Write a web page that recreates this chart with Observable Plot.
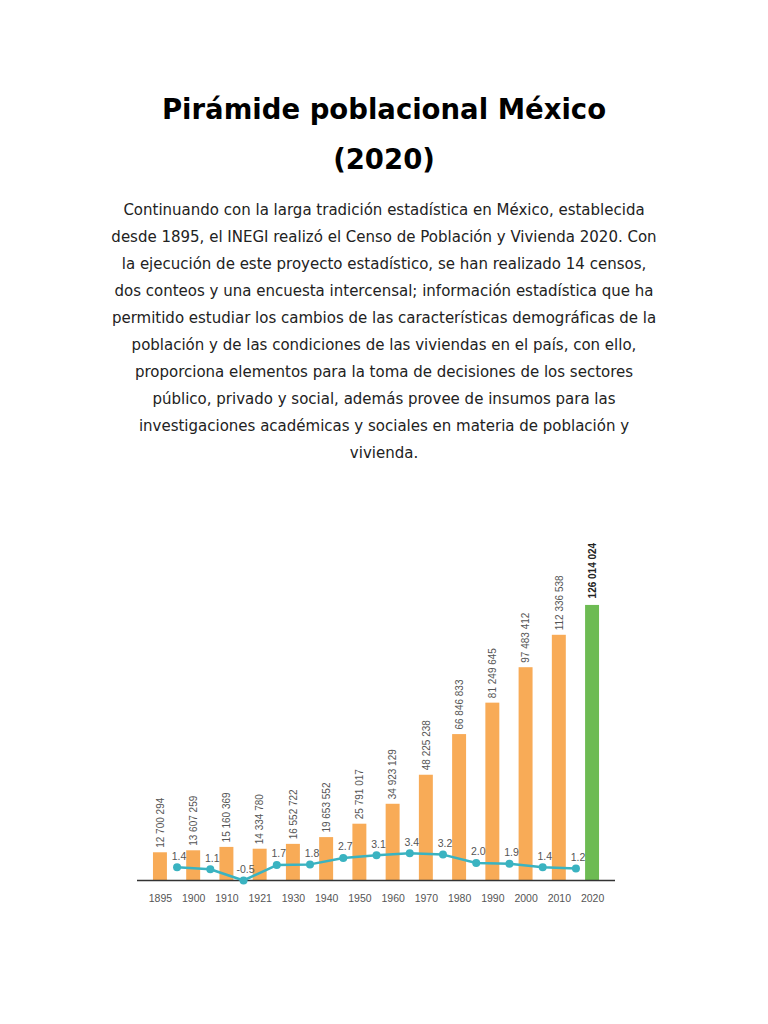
<!DOCTYPE html>
<html lang="es">
<head>
<meta charset="utf-8">
<script src="https://cdn.jsdelivr.net/npm/d3@7"></script>
<script src="https://cdn.jsdelivr.net/npm/@observablehq/plot@0.6"></script>
<style>
  html, body { margin: 0; padding: 0; background: #fff; }
  body { width: 768px; height: 1024px; position: relative; overflow: hidden; font-family: "DejaVu Sans", sans-serif; color: #111; }
  #title { position: absolute; top: 84px; left: 0; width: 768px; text-align: center; font-weight: bold; font-size: 27.5px; line-height: 50px; margin: 0; color: #000; }
  #intro { position: absolute; top: 196.5px; left: 0; width: 768px; text-align: center; font-size: 15px; line-height: 27px; margin: 0; color: #222; }
  #chart { position: absolute; top: 530px; left: 0; }
</style>
</head>
<body>
<h1 id="title">Pirámide poblacional México<br>(2020)</h1>
<p id="intro">Continuando con la larga tradición estadística en México, establecida<br>desde 1895, el INEGI realizó el Censo de Población y Vivienda 2020. Con<br>la ejecución de este proyecto estadístico, se han realizado 14 censos,<br>dos conteos y una encuesta intercensal; información estadística que ha<br>permitido estudiar los cambios de las características demográficas de la<br>población y de las condiciones de las viviendas en el país, con ello,<br>proporciona elementos para la toma de decisiones de los sectores<br>público, privado y social, además provee de insumos para las<br>investigaciones académicas y sociales en materia de población y<br>vivienda.</p>
<div id="chart"></div>
<script>
const years = ["1895","1900","1910","1921","1930","1940","1950","1960","1970","1980","1990","2000","2010","2020"];
const population = [12700294, 13607259, 15160369, 14334780, 16552722, 19653552, 25791017, 34923129, 48225238, 66846833, 81249645, 97483412, 112336538, 126014024];
const growthRates = [1.4, 1.1, -0.5, 1.7, 1.8, 2.7, 3.1, 3.4, 3.2, 2.0, 1.9, 1.4, 1.2];

const orange = "#F8AB57";
const green = "#6DBB53";
const teal = "#3AB3C1";

const fmt = d3.formatLocale({thousands: "\u2009", grouping: [3], decimal: "."}).format(",d");
const fmtSpace = v => fmt(v).replace(/\u2009/g, " ");

const bars = years.map((year, i) => ({i, year, pop: population[i], last: i === years.length - 1}));
const rates = growthRates.map((g, i) => ({i: i + 0.5, g}));
// secondary scale for growth rate (percent) mapped onto the population axis
const rateToY = g => (g + 0.5) * 3.208e6;

const chart = Plot.plot({
  width: 768,
  height: 385,
  marginLeft: 137,
  marginRight: 153,
  marginTop: 30,
  marginBottom: 35,
  style: {fontFamily: "'Liberation Sans', Arial, sans-serif", fontSize: "10px", color: "#555", background: "transparent"},
  x: {type: "linear", domain: [-0.69, years.length - 1 + 0.69], axis: null},
  y: {domain: [0, 146.6e6], axis: null},
  marks: [
    Plot.rectY(bars, {x1: d => d.i - 0.21, x2: d => d.i + 0.21, y: "pop", fill: d => d.last ? green : orange}),
    Plot.ruleY([0], {stroke: "#333", strokeWidth: 1.5}),
    Plot.line(rates, {x: "i", y: d => rateToY(d.g), stroke: teal, strokeWidth: 2.5}),
    Plot.dot(rates, {x: "i", y: d => rateToY(d.g), r: 4, fill: teal, stroke: "none"}),
    Plot.text(rates, {x: "i", y: d => rateToY(d.g), text: d => d.g.toFixed(1), dx: 2, dy: -11, fill: "#555", fontSize: 10.5}),
    Plot.text(bars.filter(d => !d.last), {x: "i", y: "pop", text: d => fmtSpace(d.pop), rotate: -90, textAnchor: "start", dy: -5, fill: "#555", fontSize: 10}),
    Plot.text(bars.filter(d => d.last), {x: "i", y: "pop", text: d => fmtSpace(d.pop), rotate: -90, textAnchor: "start", dy: -7, fill: "#222", fontSize: 10, fontWeight: "bold"}),
    Plot.text(bars, {x: "i", text: "year", frameAnchor: "bottom", dy: 21, fill: "#555", fontSize: 10.5})
  ]
});
document.getElementById("chart").append(chart);
</script>
</body>
</html>
